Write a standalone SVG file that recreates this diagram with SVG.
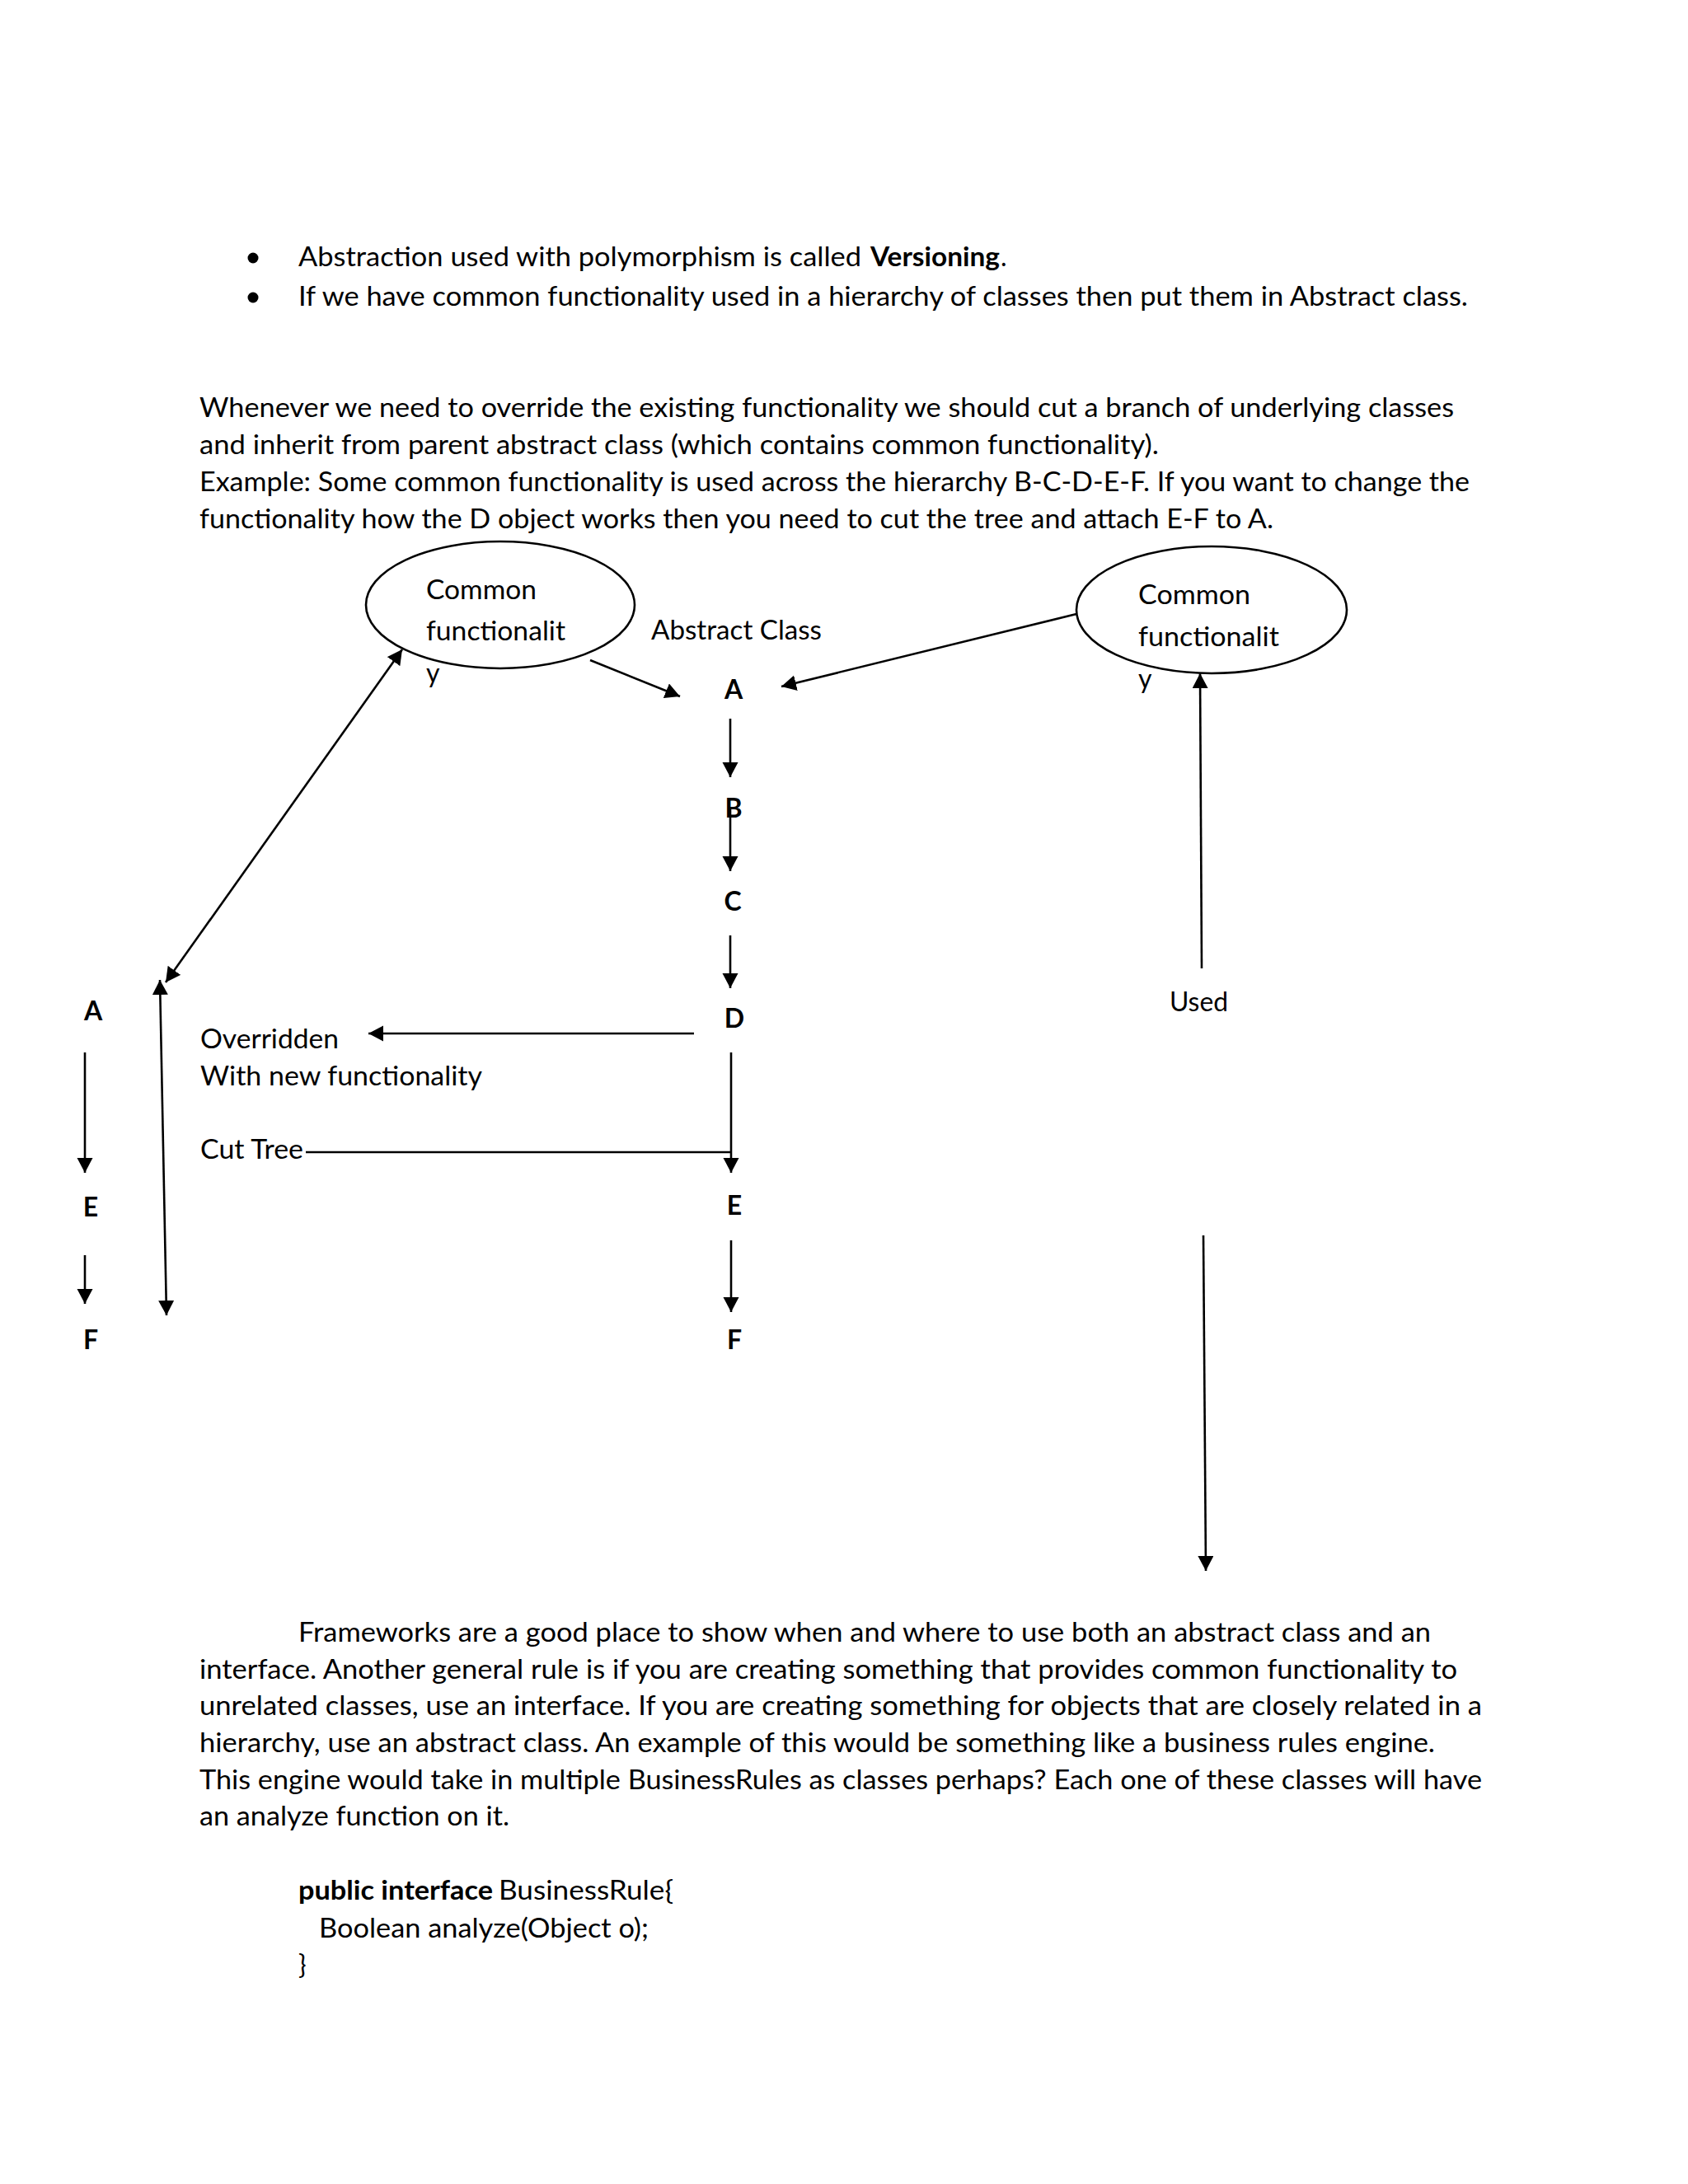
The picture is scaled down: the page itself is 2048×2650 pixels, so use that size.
<svg xmlns="http://www.w3.org/2000/svg" width="2048" height="2650" viewBox="0 0 2048 2650">
<style>
text{font-family:Lato,"Liberation Sans",sans-serif;font-size:32px;fill:#000}
.b{font-weight:bold}
.lbl{font-weight:bold;text-anchor:middle}
.ln{stroke:#000;stroke-width:2.6;fill:none}
.el{stroke:#000;stroke-width:2.6;fill:#fff}
</style>
<defs>
<marker id="ah" markerUnits="userSpaceOnUse" markerWidth="20" markerHeight="20" refX="18" refY="9.5" orient="auto-start-reverse" viewBox="0 0 20 20">
<path d="M0,0 L18,9.5 L0,19 z" fill="#000"/>
</marker>
</defs>
<rect width="2048" height="2650" fill="#fff"/>

<g id="bullets">
<circle cx="307" cy="313" r="6.5" fill="#000"/>
<circle cx="307" cy="361" r="6.5" fill="#000"/>
<text x="362" y="323" textLength="683" lengthAdjust="spacingAndGlyphs">Abstraction used with polymorphism is called</text>
<text x="1056" y="323" class="b" textLength="157" lengthAdjust="spacingAndGlyphs">Versioning</text>
<text x="1214" y="323">.</text>
<text x="362" y="371" textLength="1419" lengthAdjust="spacingAndGlyphs">If we have common functionality used in a hierarchy of classes then put them in Abstract class.</text>
</g>

<g id="intro">
<text x="242" y="506" textLength="1522" lengthAdjust="spacingAndGlyphs">Whenever we need to override the existing functionality we should cut a branch of underlying classes</text>
<text x="242" y="551" textLength="1164" lengthAdjust="spacingAndGlyphs">and inherit from parent abstract class (which contains common functionality).</text>
<text x="242" y="596" textLength="1541" lengthAdjust="spacingAndGlyphs">Example: Some common functionality is used across the hierarchy B-C-D-E-F. If you want to change the</text>
<text x="242" y="641" textLength="1303" lengthAdjust="spacingAndGlyphs">functionality how the D object works then you need to cut the tree and attach E-F to A.</text>
</g>

<g id="connectors">
<line class="ln" x1="716" y1="801" x2="825" y2="845" marker-end="url(#ah)"/>
<line class="ln" x1="1306" y1="745" x2="948" y2="833" marker-end="url(#ah)"/>
<line class="ln" x1="886" y1="872" x2="886" y2="943" marker-end="url(#ah)"/>
<line class="ln" x1="886" y1="982" x2="886" y2="1057" marker-end="url(#ah)"/>
<line class="ln" x1="886" y1="1135" x2="886" y2="1199" marker-end="url(#ah)"/>
<line class="ln" x1="887" y1="1277" x2="887" y2="1423" marker-end="url(#ah)"/>
<line class="ln" x1="371" y1="1398" x2="887" y2="1398"/>
<line class="ln" x1="887" y1="1505" x2="887" y2="1592" marker-end="url(#ah)"/>
<line class="ln" x1="842" y1="1254" x2="447" y2="1254" marker-end="url(#ah)"/>
<line class="ln" x1="103" y1="1277" x2="103" y2="1423" marker-end="url(#ah)"/>
<line class="ln" x1="103" y1="1523" x2="103" y2="1582" marker-end="url(#ah)"/>
<line class="ln" x1="194" y1="1189" x2="202" y2="1596" marker-start="url(#ah)" marker-end="url(#ah)"/>
<line class="ln" x1="488" y1="788" x2="201" y2="1192" marker-start="url(#ah)" marker-end="url(#ah)"/>
<line class="ln" x1="1458" y1="1175" x2="1456" y2="817" marker-end="url(#ah)"/>
<line class="ln" x1="1460" y1="1499" x2="1463" y2="1906" marker-end="url(#ah)"/>
</g>

<g id="common1">
<ellipse class="el" cx="607" cy="734" rx="163" ry="77"/>
<text x="517" y="727" textLength="134" lengthAdjust="spacingAndGlyphs">Common</text>
<text x="517" y="777" textLength="169" lengthAdjust="spacingAndGlyphs">functionalit</text>
<text x="517" y="828">y</text>
</g>

<g id="common2">
<ellipse class="el" cx="1470" cy="740" rx="164" ry="77"/>
<text x="1381" y="733" textLength="136" lengthAdjust="spacingAndGlyphs">Common</text>
<text x="1381" y="784" textLength="171" lengthAdjust="spacingAndGlyphs">functionalit</text>
<text x="1381" y="835">y</text>
</g>

<g id="abstract-class-label">
<text x="790" y="776" textLength="207" lengthAdjust="spacingAndGlyphs">Abstract Class</text>
</g>

<g id="node-A"><text class="lbl" x="890" y="848">A</text></g>
<g id="node-B"><text class="lbl" x="890" y="992">B</text></g>
<g id="node-C"><text class="lbl" x="889" y="1105">C</text></g>
<g id="node-D"><text class="lbl" x="891" y="1247">D</text></g>
<g id="node-E"><text class="lbl" x="891" y="1474">E</text></g>
<g id="node-F"><text class="lbl" x="891" y="1637">F</text></g>

<g id="left-A"><text class="lbl" x="113" y="1238">A</text></g>
<g id="left-E"><text class="lbl" x="110" y="1476">E</text></g>
<g id="left-F"><text class="lbl" x="110" y="1637">F</text></g>

<g id="overridden">
<text x="243" y="1272" textLength="168" lengthAdjust="spacingAndGlyphs">Overridden</text>
<text x="243" y="1317" textLength="342" lengthAdjust="spacingAndGlyphs">With new functionality</text>
</g>
<g id="cut-tree">
<text x="243" y="1406" textLength="125" lengthAdjust="spacingAndGlyphs">Cut Tree</text>
</g>
<g id="used">
<text x="1419" y="1227" textLength="71" lengthAdjust="spacingAndGlyphs">Used</text>
</g>

<g id="frameworks">
<text x="362" y="1992" textLength="1374" lengthAdjust="spacingAndGlyphs">Frameworks are a good place to show when and where to use both an abstract class and an</text>
<text x="242" y="2037" textLength="1526" lengthAdjust="spacingAndGlyphs">interface. Another general rule is if you are creating something that provides common functionality to</text>
<text x="242" y="2081" textLength="1556" lengthAdjust="spacingAndGlyphs">unrelated classes, use an interface. If you are creating something for objects that are closely related in a</text>
<text x="242" y="2126" textLength="1499" lengthAdjust="spacingAndGlyphs">hierarchy, use an abstract class. An example of this would be something like a business rules engine.</text>
<text x="242" y="2171" textLength="1556" lengthAdjust="spacingAndGlyphs">This engine would take in multiple BusinessRules as classes perhaps? Each one of these classes will have</text>
<text x="242" y="2215" textLength="376" lengthAdjust="spacingAndGlyphs">an analyze function on it.</text>
</g>

<g id="code">
<text x="362" y="2305" class="b" textLength="236" lengthAdjust="spacingAndGlyphs">public interface</text>
<text x="605" y="2305" textLength="212" lengthAdjust="spacingAndGlyphs">BusinessRule{</text>
<text x="387" y="2351" textLength="400" lengthAdjust="spacingAndGlyphs">Boolean analyze(Object o);</text>
<text x="362" y="2395">}</text>
</g>
</svg>
